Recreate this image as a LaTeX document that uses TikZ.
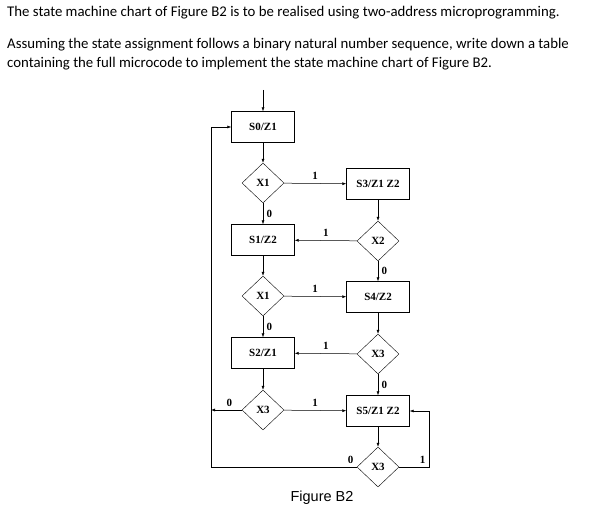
\documentclass[tikz,border=0pt]{standalone}
\usepackage{fontspec}
\setmainfont{Liberation Serif}
\newfontfamily\calfont{Carlito}
\newfontfamily\arialfont{Liberation Sans}
\usetikzlibrary{shapes.geometric,arrows.meta}
\begin{document}
\begin{tikzpicture}[x=1pt,y=-1pt,
  box/.style={rectangle, draw, minimum width=63pt, minimum height=31pt, font=\bfseries\fontsize{11}{12}\selectfont, inner sep=1pt},
  dec/.style={diamond, draw, minimum width=42pt, minimum height=40pt, inner sep=0pt, font=\bfseries\fontsize{11}{12}\selectfont},
  lab/.style={font=\bfseries\fontsize{11}{12}\selectfont},
  txt/.style={anchor=west, font=\calfont\fontsize{14.8}{16}\selectfont, inner sep=0pt},
  line/.style={-{Latex[length=4pt,width=3pt]}, line width=0.5pt},
  plain/.style={line width=0.5pt}]
\useasboundingbox (0,0) rectangle (615,526);
\node[txt] (t1) at (7,13) {The state machine chart of Figure B2 is to be realised using two-address microprogramming.};
\node[txt] (t2) at (7,45) {Assuming the state assignment follows a binary natural number sequence, write down a table};
\node[txt] (t3) at (7,64) {containing the full microcode to implement the state machine chart of Figure B2.};

\node[box] (s0) at (263,127) {S0/Z1};
\node[dec] (d1) at (263,183) {X1};
\node[box] (s1) at (263,240) {S1/Z2};
\node[dec] (d2) at (263,296) {X1};
\node[box] (s2) at (263,353) {S2/Z1};
\node[dec] (d3) at (263,410) {X3};
\node[box] (s3) at (378,184) {S3/Z1 Z2};
\node[dec] (d4) at (378,241) {X2};
\node[box] (s4) at (378,297) {S4/Z2};
\node[dec] (d5) at (378,354) {X3};
\node[box] (s5) at (378,411) {S5/Z1 Z2};
\node[dec] (d6) at (378,467) {X3};
\node[font=\arialfont\fontsize{14.5}{16}\selectfont] (fig) at (322,498) {Figure B2};

\coordinate (in) at (263,90);
\coordinate (ll) at (211,467);
\coordinate (lt) at (211,127);
\coordinate (lm) at (211,410);
\coordinate (rb) at (429,467);
\coordinate (rt) at (429,411);

\draw[line] (in) -- (s0);
\draw[line] (s0) -- (d1);
\draw[line] (d1) -- node[lab, right] {0} (s1);
\draw[line] (d1) -- node[lab, above, pos=0.5] {1} (s3);
\draw[line] (s1) -- (d2);
\draw[line] (d2) -- node[lab, right] {0} (s2);
\draw[line] (d2) -- node[lab, above] {1} (s4);
\draw[line] (s2) -- (d3);
\draw[line] (d3) -- node[lab, above] {1} (s5);
\draw[line] (d3) -- node[lab, above, pos=0.4] {0} (lm);
\draw[line] (s3) -- (d4);
\draw[line] (d4) -- node[lab, above] {1} (s1);
\draw[line] (d4) -- node[lab, right] {0} (s4);
\draw[line] (s4) -- (d5);
\draw[line] (d5) -- node[lab, above] {1} (s2);
\draw[line] (d5) -- node[lab, right] {0} (s5);
\draw[line] (s5) -- (d6);
\draw[line] (d6.west) -- (ll) -- (lt) -- (s0.west);
\node[lab, above left] (l0) at (d6.west) {0};
\draw[line] (d6.east) -- (rb) -- (rt) -- (s5.east);
\node[lab, above left] (l1) at (rb) {1};
\end{tikzpicture}
\end{document}
